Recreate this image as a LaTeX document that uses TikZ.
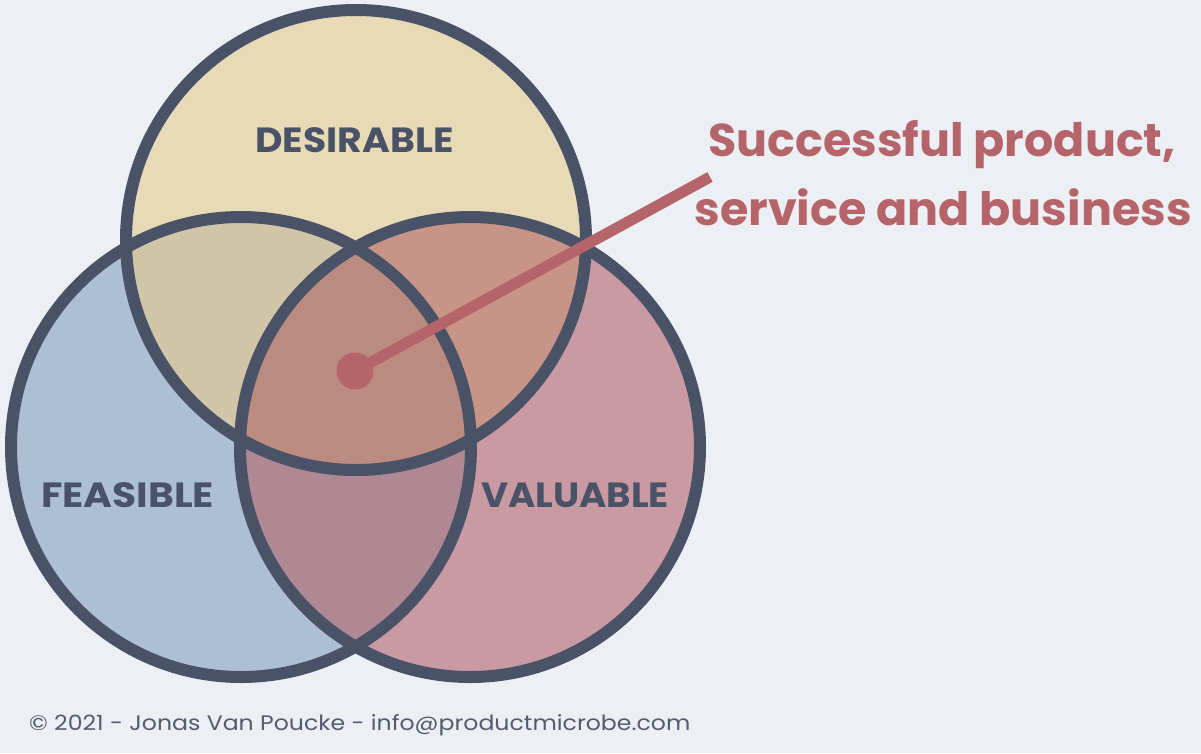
\documentclass[tikz,border=0pt]{standalone}
\usepackage{fontspec}
\setmainfont{Poppins}
\definecolor{bg}{HTML}{ECEFF4}
\definecolor{cDes}{HTML}{E8DAB6}
\definecolor{cFea}{HTML}{ADBFD4}
\definecolor{cVal}{HTML}{C99AA2}
\definecolor{cDF}{HTML}{D0C5A7}
\definecolor{cDV}{HTML}{C89487}
\definecolor{cFV}{HTML}{B08893}
\definecolor{cAll}{HTML}{BC8B7F}
\definecolor{edge}{HTML}{4A5268}
\definecolor{accent}{HTML}{B5656A}
\definecolor{foot}{HTML}{555C6E}
\begin{document}
\begin{tikzpicture}[x=1pt,y=-1pt,
  ring/.style={draw=edge,line width=12pt},
  setlabel/.style={text=edge,font=\fontsize{35}{40}\selectfont\bfseries,inner sep=0pt},
  headline/.style={text=accent,font=\fontsize{46}{55}\selectfont\bfseries,inner sep=0pt,anchor=base},
  pointer/.style={draw=accent,line width=11pt}]
\useasboundingbox (0,0) rectangle (1201,753);
\fill[bg] (0,0) rectangle (1201,753);
\def\R{230}
\coordinate (cD) at (356,240);
\coordinate (cF) at (241,447);
\coordinate (cV) at (470,447);
% base fills
\fill[cDes] (cD) circle[radius=\R];
\fill[cFea] (cF) circle[radius=\R];
\fill[cVal] (cV) circle[radius=\R];
% F and V overlap
\begin{scope}
  \clip (cF) circle[radius=\R];
  \fill[cFV] (cV) circle[radius=\R];
\end{scope}
% D overlaps
\begin{scope}
  \clip (cD) circle[radius=\R];
  \fill[cDF] (cF) circle[radius=\R];
  \fill[cDV] (cV) circle[radius=\R];
  \clip (cF) circle[radius=\R];
  \fill[cAll] (cV) circle[radius=\R];
\end{scope}
% rings
\draw[ring] (cD) circle[radius=\R];
\draw[ring] (cF) circle[radius=\R];
\draw[ring] (cV) circle[radius=\R];
% labels
\node[setlabel] (ldes) at (354.5,140.5) {\scalebox{1.08}[1]{DESIRABLE}};
\node[setlabel] (lfea) at (127.5,495.5) {\scalebox{1.12}[1]{FEASIBLE}};
\node[setlabel] (lval) at (575,495.5) {\scalebox{1.06}[1]{VALUABLE}};
% pointer
\node[circle,fill=accent,minimum size=37pt,inner sep=0pt] (dot) at (355,371) {};
\coordinate (lineend) at (710,177);
\draw[pointer] (dot.center) -- (lineend);
\node[headline] (t1) at (942,156) {Successful product,};
\node[headline] (t2) at (943,225) {service and business};
% footer
\node[text=foot,font=\fontsize{21}{24}\selectfont,anchor=base west,inner sep=0pt] (foot) at (29,730) {\scalebox{1.125}[1]{© 2021 - Jonas Van Poucke - info@productmicrobe.com}};
\end{tikzpicture}
\end{document}
